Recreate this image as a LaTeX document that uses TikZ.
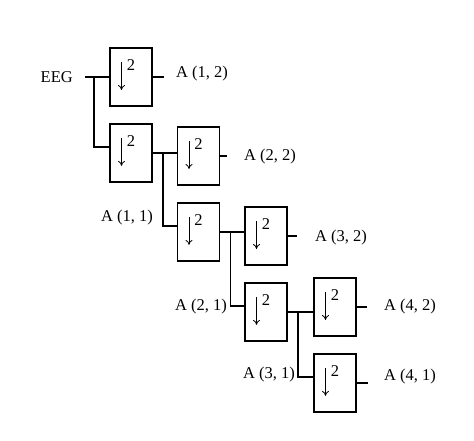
\documentclass[tikz,border=0pt]{standalone}
\usepackage{fontspec}
\setmainfont{Liberation Serif}
\usetikzlibrary{positioning,arrows.meta}

\begin{document}
\begin{tikzpicture}[
    x=1pt,y=-1pt,
    every node/.style={font=\fontsize{16.5}{19}\selectfont},
    dsbox/.style={rectangle,draw,line width=1.9pt,minimum width=42pt,minimum height=58pt,inner sep=0pt,
        path picture={\draw[line width=0.8pt,-{To[length=5pt,width=7pt]}]
            ([xshift=11.5pt,yshift=-14pt]path picture bounding box.north west) -- ++(0,-28pt);}},
    lab/.style={inner sep=0pt},
    wire/.style={line width=1.9pt}
]
\useasboundingbox (0,0) rectangle (474,440);
% downsampling stages
\foreach \i/\x/\y in {1/131/77,2/198.5/156,3/266/236,4/335/307}{
    \node[dsbox] (hi\i) at (\x,\y) {\raisebox{24pt}{2}};
    \node[dsbox,below=16pt of hi\i] (lo\i) {\raisebox{24pt}{2}};
}
% labels
\node[lab,anchor=east] (eeg) at (73,77) {EEG};
\node[lab,anchor=west] (a12) at (176,74) {A (1, 2)};
\node[lab,anchor=west] (a22) at (244,157) {A (2, 2)};
\node[lab,anchor=west] (a32) at (315,238) {A (3, 2)};
\node[lab,anchor=west] (a42) at (384,307) {A (4, 2)};
\node[lab,anchor=west] (a41) at (384,377) {A (4, 1)};
\node[lab,anchor=east] (a11) at (153,218) {A (1, 1)};
\node[lab,anchor=east] (a21) at (227,307) {A (2, 1)};
\node[lab,anchor=east] (a31) at (295,375) {A (3, 1)};
% input
\draw[wire,shorten <=12pt] (eeg.east) -- (eeg.east -| hi1.west);
\coordinate (j0) at ([xshift=21pt]eeg.east);
\draw[wire] (j0) |- ([yshift=6pt]lo1.west);
% splits
\foreach \i/\n in {1/2,2/3,3/4}{
    \draw[wire] (lo\i.east) -- (lo\i.east -| hi\n.west);
    \coordinate (j\i) at ([xshift=10pt]lo\i.east);
    \draw[wire] (j\i) |- ([yshift=6pt]lo\n.west);
}
% outputs
\draw[wire,shorten >=12pt] (hi1.east) -- (hi1.east -| a12.west);
\draw[wire,shorten >=17pt] (hi2.east) -- (hi2.east -| a22.west);
\draw[wire,shorten >=18pt] (hi3.east) -- (hi3.east -| a32.west);
\draw[wire,shorten >=17pt] (hi4.east) -- (hi4.east -| a42.west);
\draw[wire,shorten >=16pt] (lo4.east) -- (lo4.east -| a41.west);
\end{tikzpicture}
\end{document}
